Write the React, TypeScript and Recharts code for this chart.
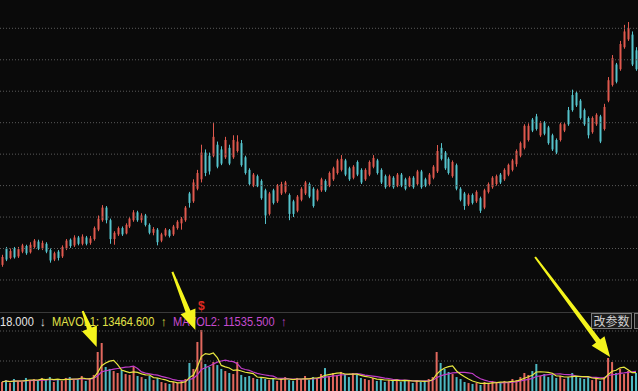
import {
  ComposedChart,
  Bar,
  Line,
  Cell,
  XAxis,
  YAxis,
  ReferenceLine,
  ReferenceDot,
} from "recharts"

// K线数据（从截图估读）
const opens = [
  10.48, 11.0, 10.7, 11.0, 10.75, 10.9, 11.08, 10.88, 11.05, 11.22,
  11.0, 11.15, 10.95, 10.65, 10.9, 10.75, 11.0, 11.28, 11.1, 11.35,
  11.15, 11.35, 11.18, 11.3, 11.6, 11.9, 12.3, 11.9, 11.3, 11.45,
  11.65, 11.48, 11.7, 11.9, 12.15, 11.9, 12.05, 11.75, 11.5, 11.6,
  11.25, 11.42, 11.58, 11.45, 11.65, 11.8, 11.9, 12.75, 12.5, 12.9,
  13.2, 14.05, 13.95, 13.95, 14.3, 14.15, 13.9, 14.2, 13.9, 14.1,
  14.35, 13.9, 13.5, 13.0, 13.3, 13.15, 12.85, 12.1, 12.85, 12.5,
  12.75, 12.8, 12.7, 12.5, 12.2, 12.55, 12.75, 13.05, 12.9, 12.55,
  12.85, 13.15, 13.0, 13.2, 13.4, 13.5, 13.8, 13.55, 13.25, 13.75,
  13.5, 13.2, 13.35, 13.6, 13.8, 13.5, 13.3, 13.0, 13.25, 13.0,
  13.35, 13.2, 12.98, 13.25, 13.05, 13.45, 13.2, 13.05, 13.25, 13.45,
  14.2, 14.05, 13.85, 13.3, 13.65, 12.9, 12.75, 12.4, 12.7, 12.5,
  12.6, 12.3, 12.8, 12.95, 13.05, 13.35, 13.2, 13.35, 13.5, 13.68,
  13.95, 14.2, 14.45, 15.1, 15.2, 14.6, 15.0, 14.85, 14.6, 14.45,
  14.45, 14.75, 15.4, 15.88, 15.95, 15.7, 15.4, 15.15, 14.7, 14.95,
  15.2, 14.8, 15.7, 16.2, 16.85, 16.7, 17.4, 17.65, 17.8, 17.3,
]

const closes = [
  10.73, 10.65, 10.92, 10.72, 10.98, 11.1, 10.85, 11.12, 11.25, 11.0,
  11.18, 10.9, 10.62, 10.85, 10.7, 11.05, 11.25, 11.08, 11.35, 11.15,
  11.38, 11.15, 11.32, 11.65, 11.95, 12.3, 11.9, 11.3, 11.5, 11.65,
  11.45, 11.75, 11.95, 12.15, 11.9, 12.05, 11.75, 11.5, 11.62, 11.2,
  11.45, 11.6, 11.4, 11.7, 11.85, 11.95, 12.3, 12.45, 13.1, 13.4,
  14.05, 13.4, 13.45, 14.55, 13.6, 13.7, 14.45, 13.7, 14.45, 14.4,
  13.65, 13.4, 13.05, 13.35, 12.98, 12.6, 12.05, 12.75, 12.45, 13.0,
  13.05, 13.1, 12.1, 12.1, 12.65, 12.9, 13.1, 12.65, 12.35, 12.85,
  13.2, 12.85, 13.4, 13.55, 13.8, 13.85, 13.35, 13.2, 13.6, 13.35,
  13.1, 13.5, 13.75, 13.88, 13.4, 13.1, 12.95, 13.3, 12.95, 13.35,
  13.0, 12.9, 13.25, 12.95, 13.45, 12.95, 13.0, 13.35, 13.6, 14.1,
  13.85, 13.55, 13.4, 13.75, 12.9, 12.55, 12.35, 12.7, 12.45, 12.8,
  12.2, 12.85, 13.05, 13.25, 13.3, 13.1, 13.5, 13.66, 13.8, 14.1,
  14.35, 14.9, 14.9, 14.75, 14.8, 15.0, 14.65, 14.35, 14.15, 14.05,
  14.95, 14.95, 14.95, 15.4, 15.55, 15.15, 14.95, 14.6, 15.15, 15.25,
  14.4, 15.5, 16.35, 17.05, 16.3, 17.5, 17.9, 18.0, 16.85, 16.7,
]

const highs = [
  10.8, 11.05, 11.0, 11.05, 11.05, 11.15, 11.12, 11.2, 11.3, 11.28,
  11.25, 11.2, 11.0, 10.9, 10.95, 11.1, 11.3, 11.32, 11.42, 11.4,
  11.45, 11.4, 11.4, 11.7, 12.05, 12.38, 12.35, 11.95, 11.55, 11.7,
  11.7, 11.8, 12.0, 12.22, 12.2, 12.12, 12.1, 11.8, 11.68, 11.65,
  11.5, 11.65, 11.62, 11.75, 11.9, 12.0, 12.35, 12.8, 13.2, 13.5,
  14.3, 14.15, 14.05, 15.0, 14.4, 14.25, 14.55, 14.3, 14.6, 14.6,
  14.45, 13.95, 13.55, 13.4, 13.35, 13.2, 12.9, 12.8, 12.9, 13.05,
  13.12, 13.15, 12.75, 12.55, 12.7, 12.95, 13.15, 13.1, 12.95, 12.9,
  13.25, 13.2, 13.45, 13.6, 13.85, 13.97, 13.85, 13.6, 13.65, 13.8,
  13.55, 13.55, 13.8, 13.97, 13.85, 13.55, 13.35, 13.35, 13.3, 13.4,
  13.4, 13.25, 13.3, 13.3, 13.5, 13.5, 13.25, 13.4, 13.65, 14.29,
  14.35, 14.1, 13.9, 13.8, 13.7, 12.95, 12.8, 12.75, 12.75, 12.85,
  12.65, 12.9, 13.1, 13.3, 13.35, 13.4, 13.55, 13.7, 13.85, 14.15,
  14.4, 14.95, 14.98, 15.15, 15.28, 15.05, 15.05, 14.9, 14.65, 14.5,
  15.0, 15.0, 15.5, 16.05, 16.0, 15.75, 15.45, 15.2, 15.2, 15.3,
  15.25, 15.6, 16.45, 17.15, 16.9, 17.6, 18.11, 18.2, 17.9, 17.4,
]

const lows = [
  10.42, 10.6, 10.66, 10.68, 10.7, 10.85, 10.8, 10.84, 11.0, 10.95,
  10.95, 10.85, 10.55, 10.6, 10.62, 10.7, 10.95, 11.02, 11.05, 11.1,
  11.1, 11.1, 11.12, 11.25, 11.55, 11.85, 11.8, 11.15, 11.12, 11.4,
  11.4, 11.45, 11.65, 11.85, 11.85, 11.82, 11.7, 11.45, 11.42, 11.1,
  11.2, 11.38, 11.35, 11.4, 11.6, 11.6, 11.85, 12.3, 12.45, 12.85,
  13.1, 13.3, 13.35, 13.9, 13.55, 13.65, 13.85, 13.65, 13.85, 14.05,
  13.6, 13.35, 13.0, 12.95, 12.95, 12.55, 11.78, 12.05, 12.4, 12.45,
  12.7, 12.75, 11.9, 12.0, 12.15, 12.5, 12.7, 12.6, 12.3, 12.5,
  12.8, 12.8, 12.95, 13.15, 13.35, 13.45, 13.3, 13.15, 13.2, 13.3,
  13.05, 13.15, 13.3, 13.55, 13.35, 13.05, 12.9, 12.95, 12.9, 12.95,
  12.95, 12.85, 12.95, 12.9, 13.0, 12.9, 12.95, 13.0, 13.2, 13.4,
  13.8, 13.5, 13.35, 13.25, 12.85, 12.5, 12.23, 12.35, 12.4, 12.45,
  12.13, 12.25, 12.75, 12.9, 13.0, 13.05, 13.15, 13.3, 13.45, 13.6,
  13.9, 14.15, 14.4, 14.7, 14.75, 14.55, 14.6, 14.3, 14.1, 14.0,
  14.4, 14.7, 14.9, 15.35, 15.5, 15.1, 14.9, 14.5, 14.65, 14.9,
  14.35, 14.75, 15.65, 16.15, 16.25, 16.65, 17.35, 17.6, 16.8, 16.65,
]

// 成交量
const vols = [
  6000, 7300, 5300, 8000, 6700, 6000, 8700, 7300,
  8000, 6700, 8700, 7300, 9300, 6000, 8000, 6700, 8700, 9300, 7300, 8000, 10000, 6700, 8700,
  10700, 26000, 32000, 16000, 14700, 13300, 12000, 14000, 11300, 10700,
  16000, 10000, 9300, 8000, 10000, 7300, 8700, 6000, 5300, 4700,
  6000, 5300, 6700, 8000, 18700, 14700, 32700, 40700, 18000, 16000,
  19300, 17300, 14700, 13300, 12000, 11300, 19300, 10700, 9300, 10000,
  8700, 8000, 9300, 8000, 7300, 8700, 6700, 8000, 9300, 7300,
  6700, 8700, 8000, 10000, 7300, 9300, 8700, 11300, 15300, 10000,
  12000, 10700, 12700, 11300, 9300, 12000, 10700, 8700, 8000, 7300,
  8700, 6700, 8000, 6000, 7300, 6700, 8000, 6000, 7300, 6700,
  5300, 7300, 6000, 6700, 8000, 9300, 26000, 18700, 14700, 12700,
  11300, 9300, 8000, 6000, 5300, 4700, 5300, 4000, 6000, 5300,
  6700, 6000, 5300, 6700, 6000, 8000, 7300, 9300, 12000, 10700,
  13300, 18000, 10000, 11300, 9300, 10700, 8700, 10000, 8000, 9300,
  12000, 10000, 8700, 8000, 9300, 7300, 8700, 6700, 9300, 22000,
  19300, 12000, 14700, 11300, 13300, 10000, 12000,
]

const priceGrid = [10, 11, 12, 13, 14, 15, 16, 17, 18]
const volGrid = [20000, 40000]

const RED = "#e0594e"
const TEAL = "#55c3cc"
const VOL_RED = "#e2685e"
const VOL_TEAL = "#4db8c2"

const movingAvg = (arr: number[], n: number) =>
  arr.map((_, i) => {
    const s = arr.slice(Math.max(0, i - n + 1), i + 1)
    return s.reduce((a, b) => a + b, 0) / s.length
  })

const ma5 = movingAvg(vols, 5)
const ma10 = movingAvg(vols, 10)

const candles = opens.map((o, i) => ({
  idx: i,
  open: o,
  close: closes[i],
  high: highs[i],
  low: lows[i],
  range: [lows[i], highs[i]],
}))

const volData = vols.map((v, i) => ({
  idx: i,
  vol: v,
  up: closes[i] >= opens[i],
  ma5: ma5[i],
  ma10: ma10[i],
}))

// 标注箭头：锚定在成交量柱顶部
const arrows = [
  { at: 24, tipDx: -1, tipDy: -5, dx: -14, dy: -36 },
  { at: 50, tipDx: -6, tipDy: 0, dx: -23, dy: -58 },
  { at: 152, tipDx: 2, tipDy: -1, dx: -75, dy: -100 },
]

const Candle = (props: any) => {
  const { x, y, width, height, payload } = props
  const { open, close, high, low } = payload
  const color = close >= open ? RED : TEAL
  const ratio = high === low ? 0 : height / (high - low)
  const cx = Math.round(x + width / 2)
  const yOpen = y + (high - open) * ratio
  const yClose = y + (high - close) * ratio
  const top = Math.min(yOpen, yClose)
  const h = Math.max(1, Math.abs(yOpen - yClose))
  return (
    <g>
      <line x1={cx + 0.5} x2={cx + 0.5} y1={y} y2={y + height} stroke={color} strokeWidth={1} />
      <rect x={cx - 0.5} y={top} width={2} height={h} fill={color} />
    </g>
  )
}

const makeArrow = (a: (typeof arrows)[number]) => (props: any) => {
  const { cx, cy } = props
  const tx = cx + a.tipDx
  const ty = cy + a.tipDy
  const sx = tx + a.dx
  const sy = ty + a.dy
  const len = Math.hypot(tx - sx, ty - sy)
  const ux = (tx - sx) / len
  const uy = (ty - sy) / len
  const nx = -uy
  const ny = ux
  const bx = tx - ux * 20
  const by = ty - uy * 20
  const pts = [
    [sx + nx * 1, sy + ny * 1],
    [bx + nx * 2.6, by + ny * 2.6],
    [bx + nx * 8, by + ny * 8],
    [tx, ty],
    [bx - nx * 8, by - ny * 8],
    [bx - nx * 2.6, by - ny * 2.6],
    [sx - nx * 1, sy - ny * 1],
  ]
  return <polygon points={pts.map((p) => p.join(",")).join(" ")} fill="#f4f41c" />
}

const SignalMark = (props: any) => (
  <text x={props.cx} y={props.cy - 20} fill="#e02a22" fontSize={12} fontWeight="bold" textAnchor="middle" fontFamily="Liberation Sans, Arial, sans-serif">
    $
  </text>
)

const labelFont = "'Liberation Sans', Arial, sans-serif"

const lbl = (left: number, color: string) => ({
  position: "absolute" as const,
  left,
  color,
  transform: "scaleX(0.85)",
  transformOrigin: "left center",
})

export default function App() {
  return (
    <div style={{ position: "relative", width: 638, height: 391, background: "#0a0a0a", overflow: "hidden" }}>
      <style>{"body{margin:0;background:#0a0a0a}.recharts-surface{overflow:visible}"}</style>

      <div style={{ position: "absolute", left: 0, top: 0 }}>
        <ComposedChart width={638} height={313} data={candles} margin={{ top: 0, right: 0, bottom: 0, left: 0 }}>
          <XAxis dataKey="idx" hide />
          <YAxis hide domain={[8.95, 18.9]} />
          {priceGrid.map((v) => (
            <ReferenceLine key={v} y={v} stroke="#5a5a5a" strokeDasharray="1 2" />
          ))}
          <Bar dataKey="range" shape={<Candle />} isAnimationActive={false} />
        </ComposedChart>
      </div>

      <div style={{ position: "absolute", left: 0, top: 312, width: 638, height: 1, background: "#3a3a3a" }} />

      <div style={{ position: "absolute", top: 315, left: 0, fontFamily: labelFont, fontSize: 13, lineHeight: "13px", whiteSpace: "nowrap" }}>
        <span style={lbl(0, "#e6e6e6")}>18.000</span>
        <span style={lbl(40, "#e6e6e6")}>↓</span>
        <span style={lbl(52, "#e2e248")}>MAVOL1: 13464.600</span>
        <span style={lbl(161, "#e2e248")}>↑</span>
        <span style={lbl(173, "#c64ad0")}>MAVOL2: 11535.500</span>
        <span style={lbl(281, "#c64ad0")}>↑</span>
      </div>

      <div
        style={{
          position: "absolute",
          left: 591,
          top: 313,
          width: 41,
          height: 16,
          boxSizing: "border-box",
          border: "1px solid #7a7a7a",
          background: "#1c1c1c",
          color: "#d0d0d0",
          fontFamily: "'Noto Sans CJK SC', sans-serif",
          fontSize: 12,
          lineHeight: "14px",
          textAlign: "center",
        }}
      >
        改参数
      </div>
      <div style={{ position: "absolute", left: 634, top: 313, width: 10, height: 16, boxSizing: "border-box", border: "1px solid #7a7a7a", background: "#1c1c1c" }} />

      <div style={{ position: "absolute", left: 0, top: 313 }}>
        <ComposedChart width={638} height={78} data={volData} margin={{ top: 0, right: 0, bottom: 0, left: 0 }}>
          <XAxis dataKey="idx" hide />
          <YAxis hide domain={[0, 52000]} />
          {volGrid.map((v) => (
            <ReferenceLine key={v} y={v} stroke="#5a5a5a" strokeDasharray="1 2" />
          ))}
          <Bar dataKey="vol" barSize={2} isAnimationActive={false}>
            {volData.map((d) => (
              <Cell key={d.idx} fill={d.up ? VOL_RED : VOL_TEAL} />
            ))}
          </Bar>
          <Line type="linear" dataKey="ma10" stroke="#c03cc8" strokeWidth={1.2} dot={false} activeDot={false} isAnimationActive={false} />
          <Line type="linear" dataKey="ma5" stroke="#e6e640" strokeWidth={1.2} dot={false} activeDot={false} isAnimationActive={false} />
          <ReferenceDot x={50} y={vols[50]} r={0} ifOverflow="visible" shape={SignalMark} />
          {arrows.map((a) => (
            <ReferenceDot key={a.at} x={a.at} y={vols[a.at]} r={0} ifOverflow="visible" shape={makeArrow(a)} />
          ))}
        </ComposedChart>
      </div>
    </div>
  )
}
